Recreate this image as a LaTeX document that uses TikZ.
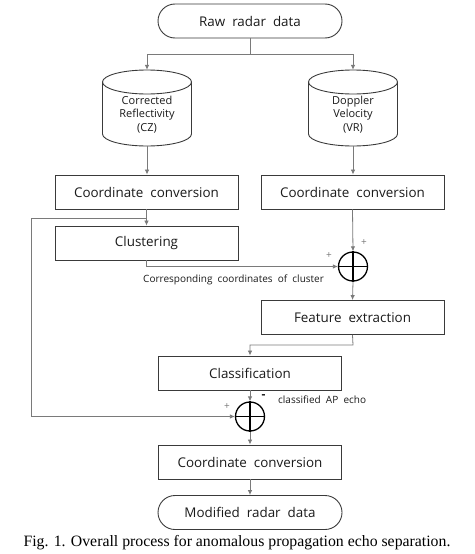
\documentclass[tikz,border=0pt]{standalone}
\usepackage{fontspec}
\setmainfont[WordSpace=2.0]{Open Sans}
\newfontfamily\capfont{Liberation Serif}
\usetikzlibrary{arrows.meta}
\definecolor{lncol}{HTML}{7A7A7A}
\definecolor{bxcol}{HTML}{3A3A3A}
\definecolor{txcol}{HTML}{1A1A1A}
\tikzset{
  x=1pt, y=-1pt,
  procbox/.style={draw=bxcol, line width=0.9pt, minimum width=183pt, minimum height=34pt, inner sep=0pt, font=\fontsize{13.4}{15}\selectfont, text=txcol},
  termbox/.style={draw=bxcol, line width=0.9pt, rounded corners=17pt, minimum width=184pt, minimum height=34pt, inner sep=0pt, font=\fontsize{13.4}{15}\selectfont, text=txcol},
  cylnode/.style={minimum width=89pt, minimum height=76pt, inner sep=0pt},
  cyltext/.style={inner sep=0pt, align=center, font=\fontsize{11}{13.5}\selectfont, text=txcol},
  sumnode/.style={circle, draw=black, line width=1.3pt, minimum size=29pt, inner sep=0pt},
  conn/.style={draw=lncol, line width=0.8pt},
  arr/.style={conn, -{Latex[length=5pt,width=4.5pt]}, shorten >=0pt},
  smalltxt/.style={font=\fontsize{10}{12}\selectfont, text=txcol, inner sep=0pt},
  signtxt/.style={font=\fontsize{10}{12}\selectfont, text=lncol, inner sep=0pt},
}
\begin{document}
\begin{tikzpicture}
\useasboundingbox (0,0) rectangle (474,554);
% terminals
\node[termbox] (raw) at (250,21) {Raw radar data};
\node[termbox] (mod) at (250,512.5) {Modified radar data};
% cylinders
\foreach \cx in {147,353}{
  \draw[bxcol, line width=0.9pt] (\cx-44.5,82) -- (\cx-44.5,134) arc[start angle=180, end angle=0, x radius=44.5, y radius=12] -- (\cx+44.5,82);
  \draw[bxcol, line width=0.9pt] (\cx,82) ellipse [x radius=44.5, y radius=12];
}
\node[cylnode] (cz) at (147,108) {};
\node[cylnode] (vr) at (353,108) {};
\node[cyltext] (czt) at (147,114.5) {Corrected\\Reflectivity\\(CZ)};
\node[cyltext] (vrt) at (353,114.5) {Doppler\\Velocity\\(VR)};
% process boxes
\node[procbox] (cc1) at (146.5,192) {Coordinate conversion};
\node[procbox] (cc2) at (352.5,192) {Coordinate conversion};
\node[procbox] (clus) at (146.5,243) {Clustering};
\node[procbox] (feat) at (352.5,317.5) {Feature extraction};
\node[procbox] (class) at (250,373) {Classification};
\node[procbox] (cc3) at (250,462) {Coordinate conversion};
% summing junctions
\node[sumnode] (s1) at (353,266.5) {};
\node[sumnode] (s2) at (250,416.5) {};
\draw[black, line width=1.3pt] (s1.north) -- (s1.south) (s1.west) -- (s1.east);
\draw[black, line width=1.3pt] (s2.north) -- (s2.south) (s2.west) -- (s2.east);
% connectors
\coordinate (j1) at (250,54);
\draw[conn] (raw.south) -- (j1);
\draw[arr] (j1) -| (cz.north);
\draw[arr] (j1) -| (vr.north);
\draw[arr] (cz.south) -- (cc1.north -| cz.south);
\draw[arr] (vr.south) -- (cc2.north -| vr.south);
\draw[arr] (cc1.south) -- (clus.north);
\draw[arr] (cc2.south) -- (s1.north);
\draw[arr] (clus.south) |- (s1.west);
\draw[arr] (s1.south) -- (feat.north);
\coordinate (j2) at (353,345);
\draw[arr] (feat.south) -- (j2) -| (class.north);
\draw[arr] (class.south) -- (s2.north);
\coordinate (fb) at (146.5,218);
\coordinate (fbc) at (31,218);
\draw[arr] (fb) -- (fbc) |- (s2.west);
\draw[arr] (s2.south) -- (cc3.north);
\draw[arr] (cc3.south) -- (mod.north);
% labels
\node[smalltxt, anchor=west] (lc) at (143,279.5) {Corresponding coordinates of cluster};
\node[signtxt] (p1) at (329,256) {+};
\node[signtxt] (p2) at (364,242.5) {+};
\node[signtxt] (p3) at (227,407) {+};
\node[font=\fontsize{12}{12}\selectfont\bfseries, text=txcol, inner sep=0pt] (m1) at (263.5,397) {-};
\node[smalltxt, anchor=west] (lap) at (278,400) {classified AP echo};
% caption
\node[font=\capfont\fontsize{15.8}{18}\selectfont, text=black, inner sep=0pt] (cap) at (237,543) {Fig. 1. Overall process for anomalous propagation echo separation.};
\end{tikzpicture}
\end{document}
